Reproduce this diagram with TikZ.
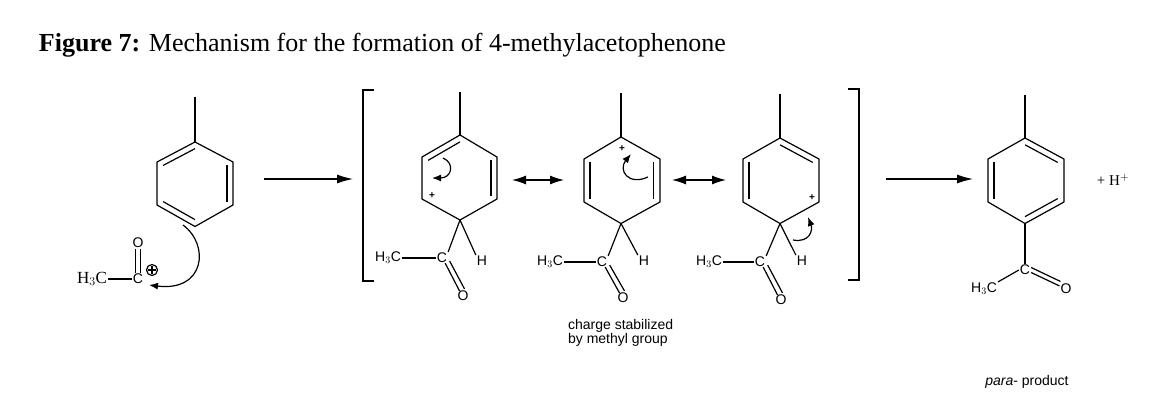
\documentclass[tikz,border=0pt]{standalone}
\usepackage{fontspec}
\setmainfont{Liberation Serif}
\setsansfont{Liberation Sans}
\usetikzlibrary{arrows.meta,calc}
\begin{document}
\begin{tikzpicture}[x=1pt,y=-1pt,line width=1.2pt,
  bond/.style={line width=1.2pt},
  rxn/.style={-{Latex[length=16pt,width=9pt]},line width=1.2pt},
  res/.style={{Latex[length=14pt,width=9pt]}-{Latex[length=14pt,width=9pt]},line width=1.2pt},
  curly/.style={-{Latex[length=9pt,width=7pt]},line width=1.2pt},
  lab/.style={font=\sffamily\fontsize{14}{14}\selectfont,inner sep=0.5pt},
  slab/.style={font=\fontsize{17}{17}\selectfont,inner sep=0.5pt},
  chg/.style={font=\sffamily\bfseries\fontsize{10}{10}\selectfont,inner sep=0pt}]
\useasboundingbox (0,0) rectangle (1162,418);
\newcommand\ring[7]{%
  \coordinate (#1o) at (#2,{(#6+#7)/2});
  \coordinate (#1t) at (#2,#3);
  \coordinate (#1ur) at (#5,#6);
  \coordinate (#1lr) at (#5,#7);
  \coordinate (#1b) at (#2,{#7+(#7-#6)/2});
  \coordinate (#1ll) at (#4,#7);
  \coordinate (#1ul) at (#4,#6);
  \draw[bond,line join=round] (#1t)--(#1ur)--(#1lr)--(#1b)--(#1ll)--(#1ul)--cycle;}
\newcommand\inner[3]{\draw[bond] ($(#2)!0.16!(#1o)$)--($(#3)!0.16!(#1o)$);}
\node[anchor=west,font=\fontsize{26}{26}\selectfont] (title) at (35,45) {\textbf{Figure 7:} Mechanism for the formation of 4-methylacetophenone};
% molecule 1
\ring{a}{195}{142}{157}{233}{162}{205}
\coordinate (am) at (195,97);
\draw[bond] (at)--(am);
\inner{a}{at}{aul}\inner{a}{aur}{alr}\inner{a}{ab}{all}
\node[slab] (ah3c) at (92,279) {H$_3$C};
\node[lab] (aC) at (138,279) {C};
\node[lab] (aO) at (138,243) {O};
\node[circle,draw,line width=1.2pt,minimum size=11pt,inner sep=0pt] (aplus) at (152,270) {};
\draw[line width=1.3pt] ($(aplus.center)+(-4,0)$)--($(aplus.center)+(4,0)$) ($(aplus.center)+(0,-4)$)--($(aplus.center)+(0,4)$);
\draw[bond] (ah3c.east)--(aC.west);
\draw[bond] ([xshift=-2.5pt]aC.north)--([xshift=-2.5pt]aO.south);
\draw[bond] ([xshift=2.5pt]aC.north)--([xshift=2.5pt]aO.south);
\draw[curly] (183,225) .. controls (210,245) and (205,292) .. (149,285);
% arrow 1
\coordinate (r1s) at (264,179); \coordinate (r1e) at (353,179);
\draw[rxn] (r1s)--(r1e);
% bracket
\coordinate (bl1) at (374,90); \coordinate (bl2) at (374,281);
\draw[bond] (bl1)--(363,90)--(363,281)--(bl2);
% molecule 2
\ring{b}{460}{135}{422}{497}{157}{199}
\coordinate (bm) at (460,92); \draw[bond] (bt)--(bm);
\inner{b}{bt}{bul}\inner{b}{bur}{blr}
\node[chg] (bplus) at (432,196) {+};
\node[lab] (bh3c) at (388,258) {H$_3$C};
\node[lab] (bC) at (442,258) {C};
\node[lab] (bO) at (463,296) {O};
\node[lab] (bH) at (482,261) {H};
\draw[bond] (bb)--(bC.north east);
\draw[bond] (bb)--(bH.north west);
\draw[bond] (bh3c.east)--(bC.west);
\draw[bond] ($(bC.south east)+(-3,-1)$)--($(bO.north)+(-3.5,1)$);
\draw[bond] ($(bC.south east)+(1.5,-3)$)--($(bO.north)+(1.5,-1)$);
\draw[curly] (443,158) .. controls (455,163) and (452,178) .. (432,178);
% res arrow 1
\coordinate (s1s) at (512,180); \coordinate (s1e) at (564,180);
\draw[res] (s1s)--(s1e);
% molecule 3
\ring{c}{621}{137}{584}{660}{159}{202}
\coordinate (cm) at (621,93); \draw[bond] (ct)--(cm);
\inner{c}{cul}{cll}\inner{c}{cur}{clr}
\node[chg] (cplus) at (622,149) {+};
\node[lab] (ch3c) at (550,262) {H$_3$C};
\node[lab] (cC) at (602,262) {C};
\node[lab] (cO) at (623,298) {O};
\node[lab] (cH) at (644,261) {H};
\draw[bond] (cb)--(cC.north east);
\draw[bond] (cb)--(cH.north west);
\draw[bond] (ch3c.east)--(cC.west);
\draw[bond] ($(cC.south east)+(-3,-1)$)--($(cO.north)+(-3.5,1)$);
\draw[bond] ($(cC.south east)+(1.5,-3)$)--($(cO.north)+(1.5,-1)$);
\draw[curly] (648,177) .. controls (628,186) and (618,170) .. (631,154);
\node[lab,align=left,anchor=north west] (cnote) at (567,318) {charge stabilized\\by methyl group};
% res arrow 2
\coordinate (s2s) at (672,180); \coordinate (s2e) at (726,180);
\draw[res] (s2s)--(s2e);
% molecule 4
\ring{d}{780}{138}{743}{819}{159}{202}
\coordinate (dm) at (780,94); \draw[bond] (dt)--(dm);
\inner{d}{dt}{dur}\inner{d}{dul}{dll}
\node[chg] (dplus) at (812,198) {+};
\node[lab] (dh3c) at (709,262) {H$_3$C};
\node[lab] (dC) at (760,262) {C};
\node[lab] (dO) at (781,300) {O};
\node[lab] (dH) at (802,261) {H};
\draw[bond] (db)--(dC.north east);
\draw[bond] (db)--(dH.north west);
\draw[bond] (dh3c.east)--(dC.west);
\draw[bond] ($(dC.south east)+(-3,-1)$)--($(dO.north)+(-3.5,1)$);
\draw[bond] ($(dC.south east)+(1.5,-3)$)--($(dO.north)+(1.5,-1)$);
\draw[curly] (793,240) .. controls (810,243) and (813,230) .. (808,217);
% bracket right
\coordinate (br1) at (848,89); \coordinate (br2) at (848,280);
\draw[bond] (br1)--(859,89)--(859,280)--(br2);
% arrow 3
\coordinate (r3s) at (886,179); \coordinate (r3e) at (973,179);
\draw[rxn] (r3s)--(r3e);
% molecule 5
\ring{e}{1025}{138}{988}{1064}{159}{202}
\coordinate (em) at (1025,95); \draw[bond] (et)--(em);
\inner{e}{et}{eur}\inner{e}{eul}{ell}\inner{e}{elr}{eb}
\node[lab] (eC) at (1025,270) {C};
\node[lab] (eh3c) at (984,289) {H$_3$C};
\node[lab] (eO) at (1066,289) {O};
\draw[bond] (eb)--(eC.north);
\draw[bond] (eh3c.north east)--(eC.west);
\draw[bond] ($(eC.east)+(0,-2.5)$)--($(eO.north west)+(1,-1.5)$);
\draw[bond] ($(eC.east)+(0,2.5)$)--($(eO.north west)+(0,3)$);
\node[font=\fontsize{15}{15}\selectfont,inner sep=0.5pt] (hplus) at (1113,180) {+ H$^+$};
\node[lab] (para) at (1027,382) {\textit{para}- product};
\end{tikzpicture}
\end{document}
